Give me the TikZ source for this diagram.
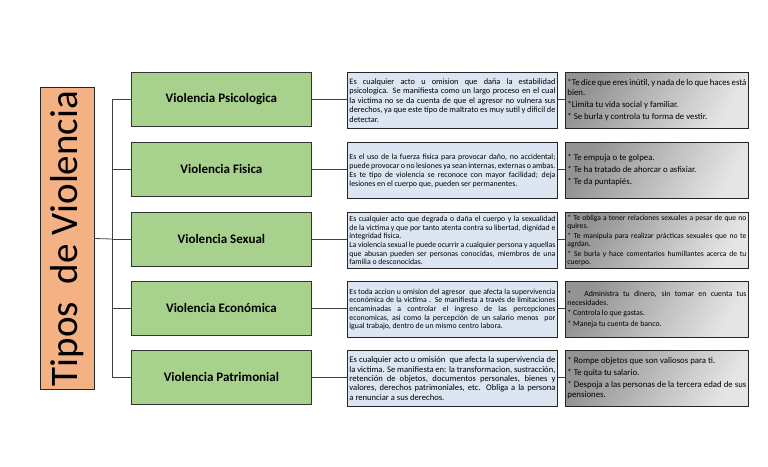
\documentclass[tikz,border=0pt]{standalone}
\usepackage{fontspec}
\setmainfont{Carlito}
\begin{document}
\begin{tikzpicture}[x=1pt,y=-1pt,
  cat/.style={draw=black!80,fill=catg,line width=0.8pt,minimum width=180pt,minimum height=54pt,font=\bfseries\fontsize{13}{15}\selectfont,anchor=north west},
  desc/.style={draw=black!85,fill=descb,line width=0.9pt,text width=206pt,inner sep=2pt,align=justify,font=\fontsize{8.3}{9.4}\selectfont,anchor=north west,minimum height=56pt},
  ex/.style={draw=black!85,left color=gray!85,right color=gray!20,shading angle=60,line width=0.9pt,text width=179pt,inner sep=2pt,align=justify,font=\fontsize{8.8}{10}\selectfont,anchor=north west,minimum height=56pt},
  ln/.style={draw=black!75,line width=0.8pt}]
\definecolor{catg}{HTML}{A9D18E}
\definecolor{descb}{HTML}{DCE6F2}
\definecolor{salmon}{HTML}{F4B183}
\useasboundingbox (0,0) rectangle (768,466);
\node[draw=black!85,fill=salmon,line width=0.9pt,minimum width=291pt,minimum height=54pt,rotate=90,font=\fontsize{39}{41}\selectfont] (t) at (67,238.5) {Tipos\ \ de Violencia};
\coordinate (j) at (112,239);
\node[cat] (c1) at (131,72) {Violencia Psicologica};
\node[cat] (c2) at (131,142) {Violencia Fisica};
\node[cat] (c3) at (131,212) {Violencia Sexual};
\node[cat] (c4) at (131,281) {Violencia Económica};
\node[cat] (c5) at (131,350) {Violencia Patrimonial};
\node[desc] (d1) at (347,72) {\hyphenpenalty=10000 Es cualquier acto u omision que daña la estabilidad psicologica. Se manifiesta como un largo proceso en el cual la victima no se da cuenta de que el agresor no vulnera sus derechos, ya que este tipo de maltrato es muy sutil y dificil de detectar.\par};
\node[desc,font=\fontsize{7.9}{9}\selectfont] (d2) at (347,142) {\hyphenpenalty=10000 Es el uso de la fuerza fisica para provocar daño, no accidental; puede provocar o no lesiones ya sean internas, externas o ambas. Es te tipo de violencia se reconoce con mayor facilidad; deja lesiones en el cuerpo que, pueden ser permanentes.\par};
\node[desc,font=\fontsize{7.8}{8.6}\selectfont] (d3) at (347,212) {\hyphenpenalty=10000 Es cualquier acto que degrada o daña el cuerpo y la sexualidad de la victima y que por tanto atenta contra su libertad, dignidad e integridad fisica.\\ La violencia sexual le puede ocurrir a cualquier persona y aquellas que abusan pueden ser personas conocidas, miembros de una familia o desconocidas.\par};
\node[desc,font=\fontsize{7.8}{8.6}\selectfont] (d4) at (347,281) {\hyphenpenalty=10000 Es toda accion u omision del agresor\ \ que afecta la supervivencia económica de la victima . Se manifiesta a través de limitaciones encaminadas a controlar el ingreso de las percepciones economicas, asi como la percepción de un salario menos\ \ por igual trabajo, dentro de un mismo centro labora.\par};
\node[desc,font=\fontsize{8.6}{9.4}\selectfont] (d5) at (347,350) {\hyphenpenalty=10000 Es cualquier acto u omisión\ \ que afecta la supervivencia de la victima. Se manifiesta en: la transformacion, sustracción, retención de objetos, documentos personales, bienes y valores, derechos patrimoniales, etc. Obliga a la persona a renunciar a sus derechos.\par};
\node[ex] (e1) at (565,72) {\hyphenpenalty=10000 *Te dice que eres inútil, y nada de lo que haces está bien.\\[2pt] *Limita tu vida social y familiar.\\[2pt] * Se burla y controla tu forma de vestir.\par};
\node[ex] (e2) at (565,142) {* Te empuja o te golpea.\\[2pt] * Te ha tratado de ahorcar o asfixiar.\\[2pt] * Te da puntapiés.\par};
\node[ex,font=\fontsize{7.6}{8.4}\selectfont] (e3) at (565,212) {\hyphenpenalty=10000 * Te obliga a tener relaciones sexuales a pesar de que no quires.\\[1pt] * Te manipula para realizar prácticas sexuales que no te agrdan.\\[1pt] * Se burla y hace comentarios humillantes acerca de tu cuerpo.\par};
\node[ex,font=\fontsize{7.8}{8.8}\selectfont] (e4) at (565,281) {\hyphenpenalty=10000 *\ \ \ Administra tu dinero, sin tomar en cuenta tus necesidades.\\[2pt] * Controla lo que gastas.\\[2pt] * Maneja tu cuenta de banco.\par};
\node[ex] (e5) at (565,350) {\hyphenpenalty=10000 * Rompe objetos que son valiosos para ti.\\[2pt] * Te quita tu salario.\\[2pt] * Despoja a las personas de la tercera edad de sus pensiones.\par};
\draw[ln] (t.south) -- (j);
\draw[ln] (j |- c1.west) -- (j |- c5.west);
\foreach \i in {1,...,5}{
  \draw[ln] (j |- c\i.west) -- (c\i.west);
  \draw[ln] (c\i.east) -- (c\i.east -| d\i.west);
  \draw[ln] (c\i.east -| d\i.east) -- (c\i.east -| e\i.west);
}
\end{tikzpicture}
\end{document}
